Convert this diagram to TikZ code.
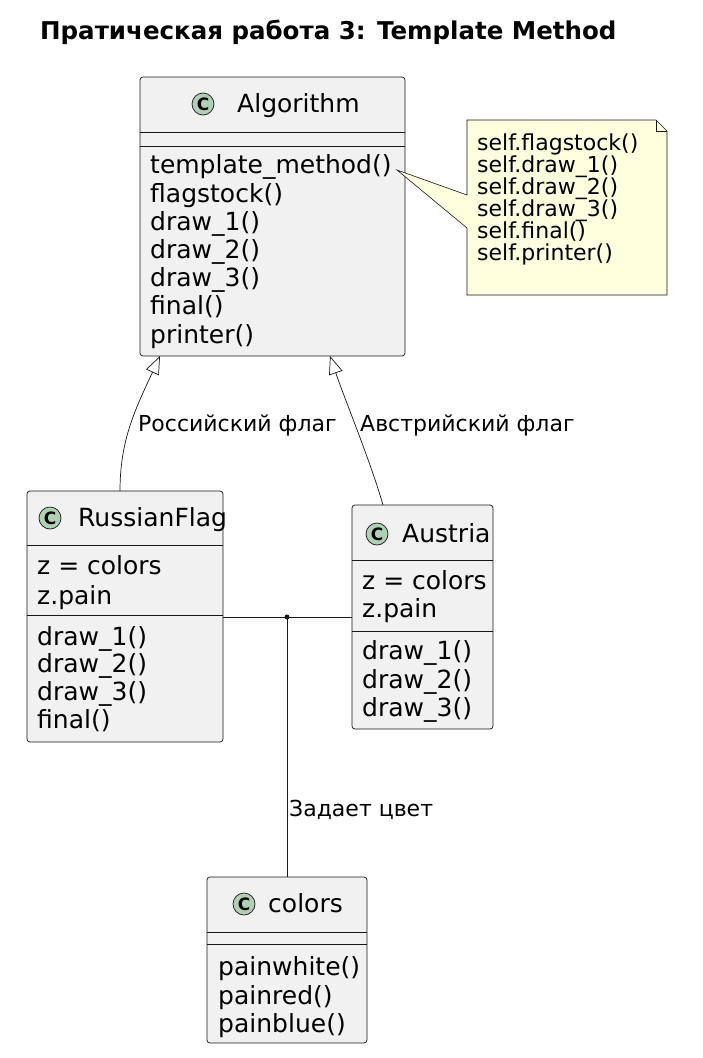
\documentclass[tikz,border=0pt]{standalone}
\usepackage{fontspec}
\setmainfont{DejaVu Sans}
\usetikzlibrary{arrows.meta}
\definecolor{boxfill}{HTML}{F1F1F1}
\definecolor{boxline}{HTML}{181818}
\definecolor{cfill}{HTML}{ADD1B2}
\definecolor{notefill}{HTML}{FEFFDD}
\begin{document}
\begin{tikzpicture}[x=1pt,y=-1pt,
  box/.style={draw=boxline,fill=boxfill,rounded corners=3pt,line width=0.7pt},
  sep/.style={draw=boxline,line width=0.7pt},
  mem/.style={anchor=base west,inner sep=0pt,font=\fontsize{25}{28}\selectfont},
  cname/.style={anchor=base west,inner sep=0pt,font=\fontsize{25}{28}\selectfont},
  ntxt/.style={anchor=base west,inner sep=0pt,font=\fontsize{22}{24}\selectfont},
  lbl/.style={anchor=base west,inner sep=0pt,font=\fontsize{22}{24}\selectfont},
  circ/.style={circle,draw=boxline,fill=cfill,minimum size=22pt,inner sep=0pt,line width=0.7pt,font=\fontsize{17}{18}\selectfont\bfseries},
  inh/.style={draw=boxline,line width=0.7pt,-{Triangle[open,length=18pt,width=14pt]}},
  line/.style={draw=boxline,line width=0.7pt}]
\useasboundingbox (0,0) rectangle (703,1058);
\fill[white] (0,0) rectangle (703,1058);
\node[anchor=base west,inner sep=0pt,font=\fontsize{24.5}{28}\selectfont\bfseries] (title) at (40,39) {Пратическая работа 3: Template Method};

% Algorithm
\draw[box] (140,77) rectangle (405,356);
\coordinate (algS1) at (160,356); \coordinate (algS2) at (330,356);
\draw[sep] (140,132) -- (405,132); \draw[sep] (140,146) -- (405,146);
\node[circ] (ca) at (203,104) {C};
\node[cname] (na) at (237,112) {Algorithm};
\node[mem] (a1) at (150,173) {template\_method()};
\node[mem] (a2) at (150,202) {flagstock()};
\node[mem] (a3) at (150,230) {draw\_1()};
\node[mem] (a4) at (150,258) {draw\_2()};
\node[mem] (a5) at (150,286) {draw\_3()};
\node[mem] (a6) at (150,314) {final()};
\node[mem] (a7) at (150,343) {printer()};

% note
\coordinate (np) at (397,170);
\filldraw[draw=boxline,fill=notefill,line width=0.6pt] (467,120) -- (656,120) -- (667,131) -- (667,295) -- (467,295) -- (467,228) -- (np) -- (467,195) -- cycle;
\draw[boxline,line width=0.6pt] (656,120) -- (656,131) -- (667,131);
\node[ntxt] at (477,150) {self.flagstock()};
\node[ntxt] at (477,172) {self.draw\_1()};
\node[ntxt] at (477,194) {self.draw\_2()};
\node[ntxt] at (477,216) {self.draw\_3()};
\node[ntxt] at (477,238) {self.final()};
\node[ntxt] at (477,260) {self.printer()};

% RussianFlag
\draw[box] (27,491) rectangle (223,742);
\draw[sep] (27,545) -- (223,545); \draw[sep] (27,615) -- (223,615);
\node[circ] (cr) at (50,518) {C};
\node[cname] (nr) at (78,526) {RussianFlag};
\node[mem] at (37,574) {z = colors};
\node[mem] at (37,604) {z.pain};
\node[mem] at (37,645) {draw\_1()};
\node[mem] at (37,672) {draw\_2()};
\node[mem] at (37,700) {draw\_3()};
\node[mem] at (37,728) {final()};
\coordinate (rT) at (120,491); \coordinate (rR) at (223,617);

% Austria
\draw[box] (352,505) rectangle (493,729);
\draw[sep] (352,560) -- (493,560); \draw[sep] (352,631) -- (493,631);
\node[circ] (cau) at (377,534) {C};
\node[cname] (nau) at (402,542) {Austria};
\node[mem] at (362,589) {z = colors};
\node[mem] at (362,617) {z.pain};
\node[mem] at (362,659) {draw\_1()};
\node[mem] at (362,688) {draw\_2()};
\node[mem] at (362,716) {draw\_3()};
\coordinate (auT) at (383,505); \coordinate (auL) at (352,617);

% colors
\draw[box] (207,877) rectangle (367,1043);
\draw[sep] (207,932) -- (367,932); \draw[sep] (207,944) -- (367,944);
\node[circ] (cc) at (244,904) {C};
\node[cname] (nc) at (268,912) {colors};
\node[mem] at (218,975) {painwhite()};
\node[mem] at (218,1004) {painred()};
\node[mem] at (218,1032) {painblue()};
\coordinate (cT) at (287,877);

% connectors
\draw[inh] (rT) .. controls (120,440) and (135,410) .. (algS1);
\draw[inh] (auT) .. controls (370,460) and (345,400) .. (algS2);
\node[lbl] at (138,431) {Российский флаг};
\node[lbl] at (360,431) {Австрийский флаг};
\coordinate (j) at (287,617);
\draw[line] (rR) -- (auL);
\fill[boxline] (j) circle (2.5pt);
\draw[line] (j) -- (cT);
\node[lbl] at (289,816) {Задает цвет};
\end{tikzpicture}
\end{document}
